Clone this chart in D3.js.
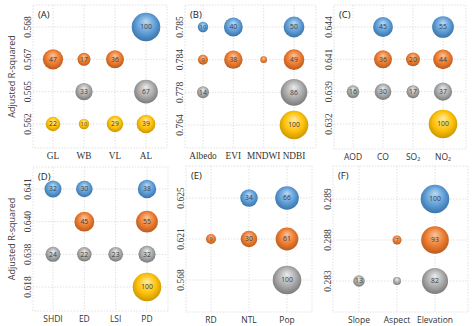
<!DOCTYPE html>
<html><head><meta charset="utf-8">
<script src="https://cdn.jsdelivr.net/npm/d3@7"></script>
<style>body{margin:0;background:#fff}svg{display:block}</style>
</head><body>
<script>
// ---- data ----
const catsA = ["GL","WB","VL","AL"];
const rowsA = ["0.568","0.567","0.565","0.562"];
const valsA = [[null,null,null,100],[47,17,36,null],[null,33,null,67],[22,10,29,39]];

const catsB = ["Albedo","EVI","MNDWI","NDBI"];
const rowsB = ["0.785","0.784","0.778","0.764"];
const valsB = [[10,40,null,50],[9,38,3,49],[14,null,null,86],[null,null,null,100]];

const catsC = ["AOD","CO","SO₂","NO₂"];
const rowsC = ["0.644","0.641","0.639","0.632"];
const valsC = [[null,45,null,55],[null,36,20,44],[16,30,17,37],[null,null,null,100]];

const catsD = ["SHDI","ED","LSI","PD"];
const rowsD = ["0.641","0.640","0.638","0.618"];
const valsD = [[32,30,null,38],[null,45,null,55],[24,22,23,32],[null,null,null,100]];

const catsE = ["RD","NTL","Pop"];
const rowsE = ["0.625","0.621","0.568"];
const valsE = [[null,34,66],[9,30,61],[null,null,100]];

const catsF = ["Slope","Aspect","Elevation"];
const rowsF = ["0.289","0.288","0.283"];
const valsF = [[null,null,100],[null,7,93],[13,5,82]];

const panelLabels = ["(A)","(B)","(C)","(D)","(E)","(F)"];
const yTitle = "Adjusted R-squared";

// ---- layout ----
const W = 474, H = 326;
const serif = "'Liberation Serif','Times New Roman',serif";
const sans = "'Open Sans','Liberation Sans',Arial,sans-serif";
const panels = [
  {cats:catsA, rows:rowsA, vals:valsA, xc:[53,146], yc:[27,124], box:[33,5,167,148], catFont:serif, ytitle:true},
  {cats:catsB, rows:rowsB, vals:valsB, xc:[203,294], yc:[27,125], box:[185,5,316,148], catFont:serif},
  {cats:catsC, rows:rowsC, vals:valsC, xc:[353,443], yc:[27,124], box:[334,5,466,149], catFont:sans},
  {cats:catsD, rows:rowsD, vals:valsD, xc:[53,147], yc:[189,287], box:[33,167,168,311], catFont:sans, ytitle:true},
  {cats:catsE, rows:rowsE, vals:valsE, xc:[211,287], yc:[198,280], box:[186,166,312,312], catFont:sans},
  {cats:catsF, rows:rowsF, vals:valsF, xc:[359,435], yc:[199,281], box:[333,166,468,312], catFont:sans}
];
panels.forEach((p,i)=>p.label = panelLabels[i]);

const colors = [
  {c0:"#bcd8f1", c1:"#5f9fd8", c2:"#3a73a8"},
  {c0:"#f9c39c", c1:"#ed7d31", c2:"#bb5a1e"},
  {c0:"#ebebeb", c1:"#ababab", c2:"#7a7a7a"},
  {c0:"#ffeaa0", c1:"#ffc20a", c2:"#c99600"}
];

const svg = d3.select("body").append("svg").attr("width",W).attr("height",H);
const defs = svg.append("defs");
colors.forEach((c,i)=>{
  const g = defs.append("radialGradient").attr("id","g"+i)
    .attr("cx","50%").attr("cy","45%").attr("r","55%").attr("fx","50%").attr("fy","30%");
  g.append("stop").attr("offset","0%").attr("stop-color",c.c0);
  g.append("stop").attr("offset","60%").attr("stop-color",c.c1);
  g.append("stop").attr("offset","100%").attr("stop-color",c.c2);
});

const rScale = d3.scaleSqrt().domain([0,100]).range([0,13.3]);
const grid = "#d9d9d9";

panels.forEach(p=>{
  const g = svg.append("g");
  const [bx0,by0,bx1,by1] = p.box;
  const x = d3.scalePoint().domain(p.cats).range(p.xc);
  const y = d3.scalePoint().domain(p.rows).range(p.yc);

  g.append("rect").attr("x",bx0).attr("y",by0).attr("width",bx1-bx0).attr("height",by1-by0)
    .attr("fill","none").attr("stroke",grid).attr("stroke-width",0.8).attr("stroke-dasharray","1.5,1.5");
  g.selectAll(".vg").data(p.cats).join("line")
    .attr("x1",d=>x(d)).attr("x2",d=>x(d)).attr("y1",by0).attr("y2",by1)
    .attr("stroke",grid).attr("stroke-width",0.8).attr("stroke-dasharray","1.5,1.5");
  g.selectAll(".hg").data(p.rows).join("line")
    .attr("y1",d=>y(d)).attr("y2",d=>y(d)).attr("x1",bx0).attr("x2",bx1)
    .attr("stroke",grid).attr("stroke-width",0.8).attr("stroke-dasharray","1.5,1.5");

  g.selectAll(".yt").data(p.rows).join("text")
    .attr("transform",d=>`translate(${bx0-2},${y(d)}) rotate(-90)`)
    .attr("text-anchor","middle").attr("font-family",serif).attr("font-size",9.5)
    .attr("fill","#404040").text(d=>d);

  g.selectAll(".xt").data(p.cats).join("text")
    .attr("x",d=>x(d)).attr("y",by1+11)
    .attr("text-anchor","middle").attr("font-family",p.catFont)
    .attr("font-size",p.catFont===serif?9.3:8.5).attr("fill","#333").text(d=>d);

  g.append("text").attr("x",bx0+5).attr("y",by0+13).attr("font-family",sans)
    .attr("font-size",9.5).attr("fill","#222").text(p.label);

  if (p.ytitle) {
    g.append("text").attr("transform",`translate(15,${(by0+by1)/2}) rotate(-90)`)
      .attr("text-anchor","middle").attr("font-family",sans).attr("font-size",9)
      .attr("fill","#404040").text(yTitle);
  }

  const pts = [];
  p.vals.forEach((row,ri)=>row.forEach((v,ci)=>{
    if (v!==null) pts.push({row:p.rows[ri], cat:p.cats[ci], v, s:ri});
  }));
  pts.sort((a,b)=>b.v-a.v);
  const bg = g.selectAll(".b").data(pts).join("g")
    .attr("transform",d=>`translate(${x(d.cat)},${y(d.row)})`);
  bg.append("circle").attr("r",d=>1+rScale(d.v)).attr("fill",d=>`url(#g${d.s})`);
  bg.filter(d=>d.v>=6).append("text").attr("text-anchor","middle").attr("dy","0.35em")
    .attr("font-family",sans).attr("font-size",d=>d.v<12?5.5:6.8).attr("fill","#3a3a3a")
    .text(d=>d.v);
});
</script>
</body></html>
